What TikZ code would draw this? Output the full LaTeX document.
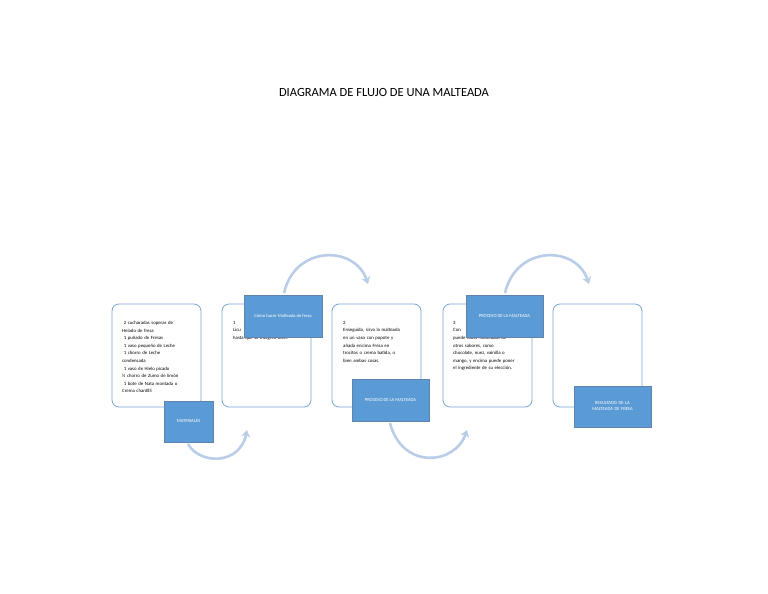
\documentclass[tikz,border=0pt]{standalone}
\usepackage{fontspec}
\setmainfont{Carlito}
\usetikzlibrary{arrows.meta}
\definecolor{bbox}{RGB}{91,155,213}
\definecolor{bline}{RGB}{120,165,215}
\definecolor{arc}{RGB}{185,205,232}
\tikzset{
  card/.style={draw=bline, line width=0.8pt, rounded corners=7pt, fill=white, minimum width=89pt, minimum height=103pt, inner sep=0pt},
  tag/.style={draw=bline!80!black, line width=0.4pt, fill=bbox, text=white, font=\fontsize{4.6}{6}\selectfont, align=center, inner sep=1pt},
  body/.style={font=\fontsize{4.8}{7.6}\selectfont, align=left, anchor=north west, text width=80pt, inner sep=0pt},
  flow/.style={draw=arc, line width=2.6pt, -{Stealth[length=7pt,width=9pt]}},
}
\begin{document}
\begin{tikzpicture}[x=1pt,y=-1pt]
\useasboundingbox (0,0) rectangle (768,594);
\node[font=\fontsize{12.5}{14}\selectfont] (title) at (384,92) {DIAGRAMA DE FLUJO DE UNA MALTEADA};
% cards
\node[card] (c1) at (156.5,355.5) {};
\node[card] (c2) at (266.5,355.5) {};
\node[card] (c3) at (376.5,355.5) {};
\node[card] (c4) at (487.5,355.5) {};
\node[card] (c5) at (597.5,355.5) {};
% texts
\node[body] (t1) at (122,321) {\ 2 cucharadas soperas de\\Helado de fresa\\\ 1 puñado de Fresas\\\ 1 vaso pequeño de Leche\\\ 1 chorro de Leche\\condensada\\\ 1 vaso de Hielo picado\\½ chorro de Zumo de limón\\\ 1 bote de Nata montada o\\Crema chantilli};
\node[body] (t2) at (233,321) {1\\Licu\\hasta que se integren bien.};
\node[body] (t3) at (343,321) {2\\Enseguida, sirva la malteada\\en un vaso con popote y\\añada encima Fresa en\\trocitos o crema batida, o\\bien ambas cosas.};
\node[body] (t4) at (453,321) {3\\Con\\puede hacer malteadas de\\otros sabores, como\\chocolate, nuez, vainilla o\\mango, y encima puede poner\\el ingrediente de su elección.};
% tags
\node[tag, minimum width=78pt, minimum height=42pt] (g2) at (283,316) {Cómo hacer Malteada de fresa};
\node[tag, minimum width=49pt, minimum height=41pt] (g1) at (188.5,421.5) {MATERIALES};
\node[tag, minimum width=77pt, minimum height=42pt] (g3) at (390.5,400) {PROCESO DE LA MALTEADA};
\node[tag, minimum width=77pt, minimum height=42pt] (g4) at (504.5,316) {PROCESO DE LA MALTEADA};
\node[tag, minimum width=77pt, minimum height=41pt, text width=70pt] (g5) at (612.5,406.5) {RESULTADO DE LA MALTEADA DE FRESA};
% arcs
\coordinate (a1s) at (188,444);
\coordinate (a1e) at (247,430);
\draw[flow] (a1s) .. controls (200,465) and (240,465) .. (a1e);
\coordinate (a2s) at (284,293);
\coordinate (a2e) at (368,284);
\draw[flow] (a2s) .. controls (295,245) and (355,245) .. (a2e);
\coordinate (a3s) at (390,423);
\coordinate (a3e) at (467,430);
\draw[flow] (a3s) .. controls (402,470) and (455,465) .. (a3e);
\coordinate (a4s) at (505,293);
\coordinate (a4e) at (589,284);
\draw[flow] (a4s) .. controls (516,245) and (576,245) .. (a4e);
\end{tikzpicture}
\end{document}
